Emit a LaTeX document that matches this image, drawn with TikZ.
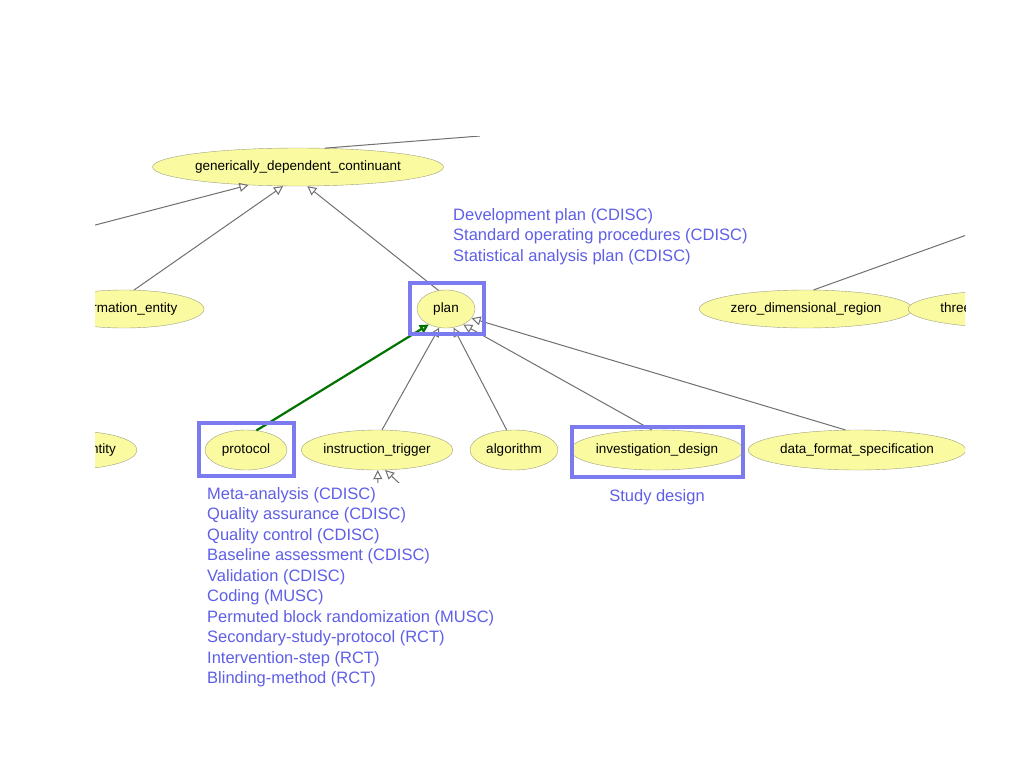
\documentclass[tikz,border=0pt]{standalone}
\usepackage{fontspec}
\setmainfont{Liberation Sans}
\usetikzlibrary{arrows.meta,shapes.geometric}
\definecolor{nodeY}{HTML}{FAFAA0}
\definecolor{nodeE}{HTML}{A0A080}
\definecolor{markB}{HTML}{7B7BEF}
\definecolor{noteB}{HTML}{5F5FE8}
\definecolor{edgeG}{HTML}{707070}
\tikzset{%
  tipO/.tip={Triangle[open,length=9pt,width=9pt]},
  cls/.style={ellipse,draw=nodeE,fill=nodeY,inner sep=0pt,minimum height=38pt,font=\fontsize{13.5}{15}\selectfont},
  isa/.style={draw=edgeG,line width=1pt,-tipO},
  selbox/.style={draw=markB,line width=4pt},
  note/.style={text=noteB,font=\fontsize{16.5}{20.5}\selectfont,align=left,inner sep=0pt}
}
\begin{document}
\begin{tikzpicture}[x=1pt,y=-1pt]
\useasboundingbox[fill=white] (0,0) rectangle (1024,768);
\begin{scope}
\clip (95,136) rectangle (965,482);
% classes
\node[cls,minimum width=262pt] (gdc) at (298,167) {generically\_dependent\_continuant};
\node[cls,minimum width=160pt] (info) at (124,309) {information\_entity};
\node[cls,minimum width=58pt] (plan) at (446,309) {plan};
\node[cls,minimum width=196pt] (zero) at (806,309) {zero\_dimensional\_region};
\node[cls,minimum width=196pt] (three) at (1018,309) {three\_dimensional\_region};
\node[cls,minimum width=130pt] (ent) at (72,450) {material\_entity};
\node[cls,minimum width=82pt,minimum height=40pt] (prot) at (246,450) {protocol};
\node[cls,minimum width=144pt,minimum height=40pt] (trig) at (377,450) {instruction\_trigger};
\node[cls,minimum width=88pt,minimum height=40pt] (algo) at (514,450) {algorithm};
\node[cls,minimum width=164pt,minimum height=40pt] (inv) at (657,450) {investigation\_design};
\node[cls,minimum width=200pt,minimum height=40pt] (dfs) at (857,450) {data\_format\_specification};
\coordinate (outL) at (80,229);
\coordinate (outT) at (480,136);
\coordinate (outR) at (975,232);
\coordinate (subA) at (378,495);
\coordinate (subB) at (412,495);
% is-a edges
\draw[isa] (outL) -- (gdc.200);
\draw[isa] (info.62) -- (gdc.232);
\draw[isa] (plan.112) -- (gdc.296);
\draw[draw=edgeG,line width=1pt] (gdc.35) -- (outT);
\draw[draw=edgeG,line width=1pt] (zero.68) -- (outR);
\draw[isa] (trig.76) -- (plan.250);
\draw[isa] (algo.110) -- (plan.292);
\draw[isa] (inv.105) -- (plan.318);
\draw[isa] (dfs.120) -- (plan.340);
\draw[isa] (subA) -- (trig.272);
\draw[isa] (subB) -- (trig.292);
\draw[draw=green!45!black,line width=2.2pt,-tipO] (prot.62) -- (plan.222);
\end{scope}
% marks
\draw[selbox] (410,283) rectangle (484,334);
\draw[selbox] (199,423) rectangle (294,476);
\draw[selbox] (572,427) rectangle (743,477);
% notes
\node[note,anchor=north west] (planN) at (453,208) {Development plan (CDISC)\\Standard operating procedures (CDISC)\\Statistical analysis plan (CDISC)};
\node[note,anchor=north west] (protN) at (207,487) {Meta-analysis (CDISC)\\Quality assurance (CDISC)\\Quality control (CDISC)\\Baseline assessment (CDISC)\\Validation (CDISC)\\Coding (MUSC)\\Permuted block randomization (MUSC)\\Secondary-study-protocol (RCT)\\Intervention-step (RCT)\\Blinding-method (RCT)};
\node[note] (invN) at (657,497) {Study design};
\end{tikzpicture}
\end{document}
